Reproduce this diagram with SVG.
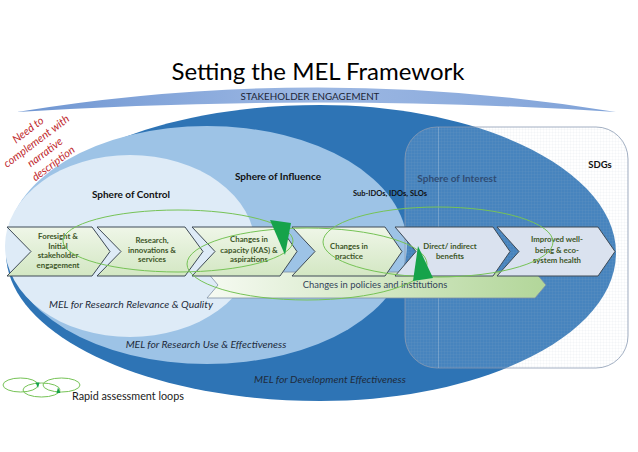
<svg xmlns="http://www.w3.org/2000/svg" width="638" height="452" viewBox="0 0 638 452">
<defs>
<style>
.chev{stroke:#3E4A56;stroke-width:1}
.ct{font-family:Lato,"Liberation Sans",sans-serif;font-size:7.8px;font-weight:700;fill:#3D5628;text-anchor:middle}
.loop{fill:none;stroke:#76C356;stroke-width:1}
.tri{fill:#16A34A}
.mel{font-family:Lato,"Liberation Sans",sans-serif;font-size:10.4px;font-style:italic;fill:#1E2B3C;text-anchor:middle}
.hd{font-family:Lato,"Liberation Sans",sans-serif;font-weight:700;text-anchor:middle}
.red{font-family:Lato,"Liberation Sans",sans-serif;font-size:11px;font-style:italic;fill:#C0282D;text-anchor:middle}
</style>
<linearGradient id="gch" x1="0" y1="0" x2="0" y2="1">
<stop offset="0" stop-color="#EFF6E8"/>
<stop offset="1" stop-color="#D3E7C3"/>
</linearGradient>
<linearGradient id="gbd" x1="0" y1="0" x2="1" y2="0">
<stop offset="0" stop-color="#F6FAF2"/>
<stop offset="1" stop-color="#B2D699"/>
</linearGradient>
<linearGradient id="gsk" x1="0" y1="0" x2="1" y2="0">
<stop offset="0" stop-color="#6F96D2"/>
<stop offset="0.5" stop-color="#9DB8E3"/>
<stop offset="1" stop-color="#7FA2D8"/>
</linearGradient>
<pattern id="grid" width="3" height="3" patternUnits="userSpaceOnUse">
<path d="M3 0L0 0 0 3" fill="none" stroke="#A9B8CC" stroke-width="0.4" stroke-opacity="0.35"/>
</pattern>
</defs>
<rect width="638" height="452" fill="#FFFFFF"/>

<g id="title">
<text x="318" y="80" font-family="Lato,'Liberation Sans',sans-serif" font-size="24" fill="#000" text-anchor="middle">Setting the MEL Framework</text>
</g>

<g id="stakeholder">
<path d="M17 112 Q318 63 616 112 Q318 93 17 112 Z" fill="url(#gsk)"/>
<text x="310" y="99.5" font-family="Lato,'Liberation Sans',sans-serif" font-size="9.8" fill="#1C2536" text-anchor="middle">STAKEHOLDER ENGAGEMENT</text>
</g>

<g id="sphere-interest">
<path d="M6 253 C6 171.3 146.6 105 320 105 C483.5 105 616 171.3 616 253 C616 334.7 483.5 401 320 401 C146.6 401 6 334.7 6 253 Z" fill="#2E74B5"/>
</g>
<g id="sphere-influence">
<ellipse cx="207" cy="245" rx="200" ry="119" fill="#9DC3E6"/>
</g>
<g id="sphere-control">
<ellipse cx="130" cy="246" rx="125" ry="91" fill="#DEEBF7"/>
</g>

<g id="sdgs">
<rect x="405" y="127" width="223" height="241" rx="32" fill="#FFFFFF" fill-opacity="0.12"/>
<rect x="405" y="127" width="223" height="241" rx="32" fill="url(#grid)" stroke="#8A9BB3" stroke-width="0.8"/>
<line x1="438.5" y1="127" x2="438.5" y2="368" stroke="#FFFFFF" stroke-opacity="0.25" stroke-width="0.8"/>
</g>

<g id="band-policies">
<polygon points="207,272 535,272 546,285 535,298 207,298 218,285" fill="url(#gbd)" stroke="#7F8FA6" stroke-width="0.8"/>
<text x="375" y="288" font-family="Lato,'Liberation Sans',sans-serif" font-size="9.4" fill="#33445A" text-anchor="middle">Changes in policies and institutions</text>
</g>

<g id="chev1">
<polygon class="chev" fill="url(#gch)" points="7,227 92,227 110,251.5 92,276 7,276 31,251.5"/>
<text class="ct" x="58" y="239">Foresight &amp;</text>
<text class="ct" x="58" y="248.5">Initial</text>
<text class="ct" x="58" y="258">stakeholder</text>
<text class="ct" x="58" y="267.5">engagement</text>
</g>
<g id="chev2">
<polygon class="chev" fill="url(#gch)" points="97,227 185,227 203,251.5 185,276 97,276 121,251.5"/>
<text class="ct" x="152" y="243">Research,</text>
<text class="ct" x="152" y="252.5">innovations &amp;</text>
<text class="ct" x="152" y="262">services</text>
</g>
<g id="chev3">
<polygon class="chev" fill="url(#gch)" points="192,227 280,227 297,251.5 280,276 192,276 215,251.5"/>
<text class="ct" x="249" y="242">Changes in</text>
<text class="ct" x="249" y="252.5">capacity (KAS) &amp;</text>
<text class="ct" x="249" y="262">aspirations</text>
</g>
<g id="chev4">
<polygon class="chev" fill="url(#gch)" points="292,227 385,227 402,251.5 385,276 292,276 315,251.5"/>
<text class="ct" x="349" y="249">Changes in</text>
<text class="ct" x="349" y="259">practice</text>
</g>
<g id="chev5">
<polygon class="chev" fill="#DAE2EF" points="395,227 493,227 510,251.5 493,276 395,276 416,251.5"/>
<text class="ct" x="450" y="249">Direct/ indirect</text>
<text class="ct" x="450" y="259">benefits</text>
</g>
<g id="chev6">
<polygon class="chev" fill="#DAE2EF" points="497,227 598,227 615,251.5 598,276 497,276 519,251.5"/>
<text class="ct" x="557" y="242">Improved well-</text>
<text class="ct" x="557" y="252.5">being &amp; eco-</text>
<text class="ct" x="557" y="263">system health</text>
</g>

<g id="connectors">
<ellipse class="loop" cx="178" cy="241" rx="115" ry="31"/>
<ellipse class="loop" cx="307" cy="264" rx="120" ry="36"/>
<ellipse class="loop" cx="438" cy="242" rx="115" ry="35"/>
<polygon class="tri" points="270,220 291,223 285,255"/>
<polygon class="tri" points="418,246 413,281 433,278"/>
</g>

<g id="labels">
<text class="hd" x="131" y="198" font-size="10" fill="#111">Sphere of Control</text>
<text class="hd" x="278" y="180" font-size="10" fill="#111">Sphere of Influence</text>
<text class="hd" x="457" y="182" font-size="10" fill="#2F4C74">Sphere of Interest</text>
<text class="hd" x="390" y="196" font-size="7.5" fill="#111">Sub-IDOs, IDOs, SLOs</text>
<text class="hd" x="600" y="168" font-size="9.5" fill="#111">SDGs</text>
<text class="mel" x="131" y="308">MEL for Research Relevance &amp; Quality</text>
<text class="mel" x="206" y="348">MEL for Research Use &amp; Effectiveness</text>
<text class="mel" x="330" y="383">MEL for Development Effectiveness</text>
</g>

<g id="note" transform="translate(40.5 146.5) rotate(-37)">
<text class="red" x="0" y="-17">Need to</text>
<text class="red" x="0" y="-3">complement with</text>
<text class="red" x="0" y="11">narrative</text>
<text class="red" x="0" y="25">description</text>
</g>

<g id="legend">
<ellipse class="loop" cx="20.5" cy="385" rx="17.5" ry="7"/>
<ellipse class="loop" cx="41.5" cy="390" rx="18.5" ry="7"/>
<ellipse class="loop" cx="61.5" cy="385" rx="18.5" ry="7"/>
<polygon class="tri" points="35.5,382.5 39.5,382.5 38,388"/>
<polygon class="tri" points="58,387.5 56.5,393 60.5,393"/>
<text x="72" y="400" font-family="Lato,'Liberation Sans',sans-serif" font-size="10.8" fill="#1A1A1A">Rapid assessment loops</text>
</g>
</svg>
